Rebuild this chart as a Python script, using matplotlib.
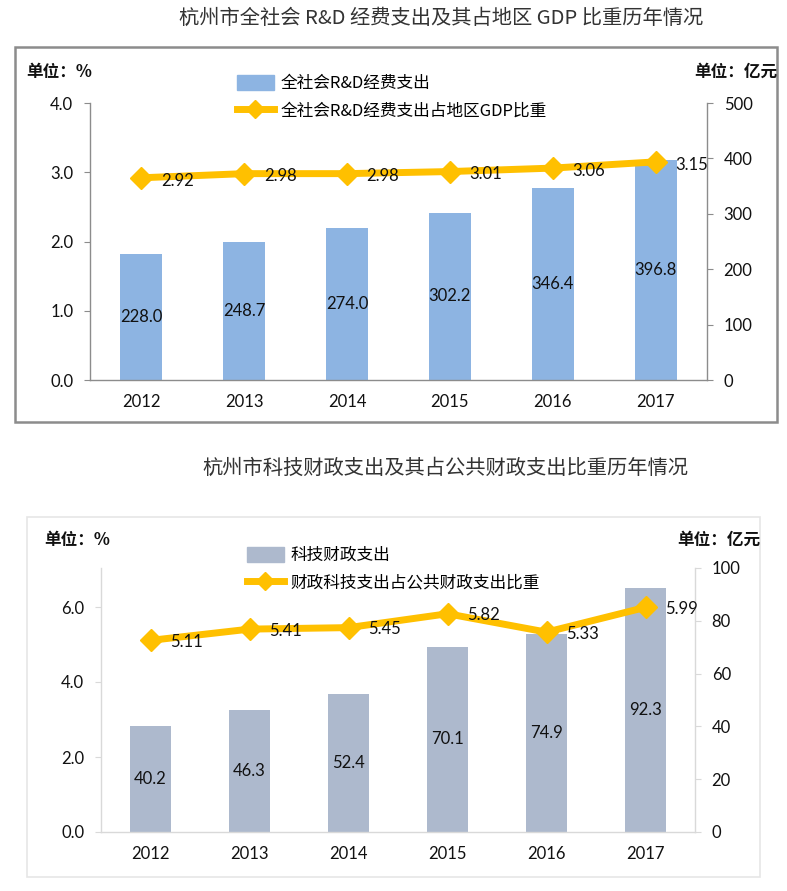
import matplotlib.pyplot as plt
import numpy as np
from matplotlib.lines import Line2D
from matplotlib.patches import Patch, Rectangle

plt.rcParams["font.family"] = ["Lato", "Noto Sans CJK SC", "DejaVu Sans"]

CJK = ["Noto Sans CJK SC", "DejaVu Sans"]

YEARS = ["2012", "2013", "2014", "2015", "2016", "2017"]

# chart 1: R&D spending (亿元) and share of GDP (%)
RD_SPEND = [228.0, 248.7, 274.0, 302.2, 346.4, 396.8]
RD_SHARE = [2.92, 2.98, 2.98, 3.01, 3.06, 3.15]

# chart 2: fiscal S&T spending (亿元) and share of public spending (%)
ST_SPEND = [40.2, 46.3, 52.4, 70.1, 74.9, 92.3]
ST_SHARE = [5.11, 5.41, 5.45, 5.82, 5.33, 5.99]

W, H = 787, 891
GOLD = "#FFC000"


def fx(px):
    return px / W


def fy(py):
    return 1 - py / H


def combo(fig, rect, bars, share, bar_color, spine_color, ylim_l, ylim_r,
          lticks, rticks, lab_dy):
    axl = fig.add_axes(rect)
    axr = axl.twinx()
    axl.set_zorder(axr.get_zorder() + 1)
    axl.patch.set_visible(False)

    x = np.arange(len(YEARS))
    bc = axr.bar(x, bars, width=0.41, color=bar_color, zorder=2)
    axr.bar_label(bc, labels=[f"{v:.1f}" for v in bars], label_type="center",
                  fontsize=12, color="#111111")

    axl.plot(x, share, color=GOLD, lw=5, marker="D", ms=11, zorder=3)
    for xi, v in zip(x, share):
        axl.annotate(f"{v:.2f}", (xi, v), xytext=(14, lab_dy),
                     textcoords="offset points", ha="left", va="center",
                     fontsize=12, color="#111111")

    axl.set_xlim(-0.5, len(YEARS) - 0.5)
    axl.set_ylim(*ylim_l)
    axr.set_ylim(*ylim_r)
    axl.set_yticks(lticks)
    axl.set_yticklabels([f"{t:.1f}" for t in lticks])
    axr.set_yticks(rticks)
    axr.set_yticklabels([f"{t:d}" for t in rticks])
    axl.set_xticks(x)
    axl.set_xticklabels(YEARS)

    for a in (axl, axr):
        a.spines["top"].set_visible(False)
        for s in ("left", "right", "bottom"):
            a.spines[s].set_color(spine_color)
            a.spines[s].set_linewidth(1)
    axr.spines["left"].set_visible(False)
    axl.spines["right"].set_visible(False)
    axr.spines["bottom"].set_visible(False)

    axl.tick_params(axis="x", length=0, pad=10, labelsize=12, labelcolor="#111111")
    axl.tick_params(axis="y", length=4, color=spine_color, pad=8,
                    labelsize=12, labelcolor="#111111")
    axr.tick_params(axis="y", length=4, color=spine_color, pad=8,
                    labelsize=12, labelcolor="#111111")
    return axl, axr


fig = plt.figure(figsize=(W / 100, H / 100), dpi=100)

# ---- chart 1 ----
fig.patches.append(Rectangle((fx(15), fy(422)), fx(762), 375 / H,
                             transform=fig.transFigure, fill=False,
                             edgecolor="#8c8c8c", lw=1.8))
fig.text(fx(441), fy(18), "杭州市全社会 R&D 经费支出及其占地区 GDP 比重历年情况",
         family=CJK, fontsize=14.6, ha="center", va="center", color="#333333",
         fontweight="light")
combo(fig, [fx(90), fy(380), fx(617), 277 / H], RD_SPEND, RD_SHARE,
      "#8DB4E2", "#8c8c8c", (0, 4), (0, 500),
      [0.0, 1.0, 2.0, 3.0, 4.0], [0, 100, 200, 300, 400, 500], -2)
fig.text(fx(26), fy(72), "单位：%", family=CJK, fontsize=12, fontweight="bold",
         va="center", ha="left", color="#111111")
fig.text(fx(777), fy(72), "单位：亿元", family=CJK, fontsize=12,
         fontweight="bold", va="center", ha="right", color="#111111")
fig.legend([Patch(color="#8DB4E2"),
            Line2D([], [], color=GOLD, lw=5, marker="D", ms=9)],
           ["全社会R&D经费支出", "全社会R&D经费支出占地区GDP比重"],
           loc="upper left", bbox_to_anchor=(fx(222), fy(60)), frameon=False,
           prop={"family": CJK, "size": 12}, handlelength=2.2,
           handleheight=1.0, labelspacing=0.6, handletextpad=0.4)

# ---- chart 2 ----
fig.patches.append(Rectangle((fx(27), fy(877)), fx(733), 360 / H,
                             transform=fig.transFigure, fill=False,
                             edgecolor="#e6e6e6", lw=1.2))
fig.text(fx(445), fy(468), "杭州市科技财政支出及其占公共财政支出比重历年情况",
         family=CJK, fontsize=14.6, ha="center", va="center", color="#333333",
         fontweight="light")
combo(fig, [fx(101), fy(832), fx(594), 264 / H], ST_SPEND, ST_SHARE,
      "#ADB9CD", "#d9d9d9", (0, 7.04), (0, 100),
      [0.0, 2.0, 4.0, 6.0], [0, 20, 40, 60, 80, 100], -1)
fig.text(fx(44), fy(540), "单位：%", family=CJK, fontsize=12, fontweight="bold",
         va="center", ha="left", color="#111111")
fig.text(fx(760), fy(540), "单位：亿元", family=CJK, fontsize=12,
         fontweight="bold", va="center", ha="right", color="#111111")
fig.legend([Patch(color="#ADB9CD"),
            Line2D([], [], color=GOLD, lw=5, marker="D", ms=9)],
           ["科技财政支出", "财政科技支出占公共财政支出比重"],
           loc="upper left", bbox_to_anchor=(fx(232), fy(532)), frameon=False,
           prop={"family": CJK, "size": 12}, handlelength=2.2,
           handleheight=1.0, labelspacing=0.6, handletextpad=0.4)

fig.savefig("out.png", dpi=100)
